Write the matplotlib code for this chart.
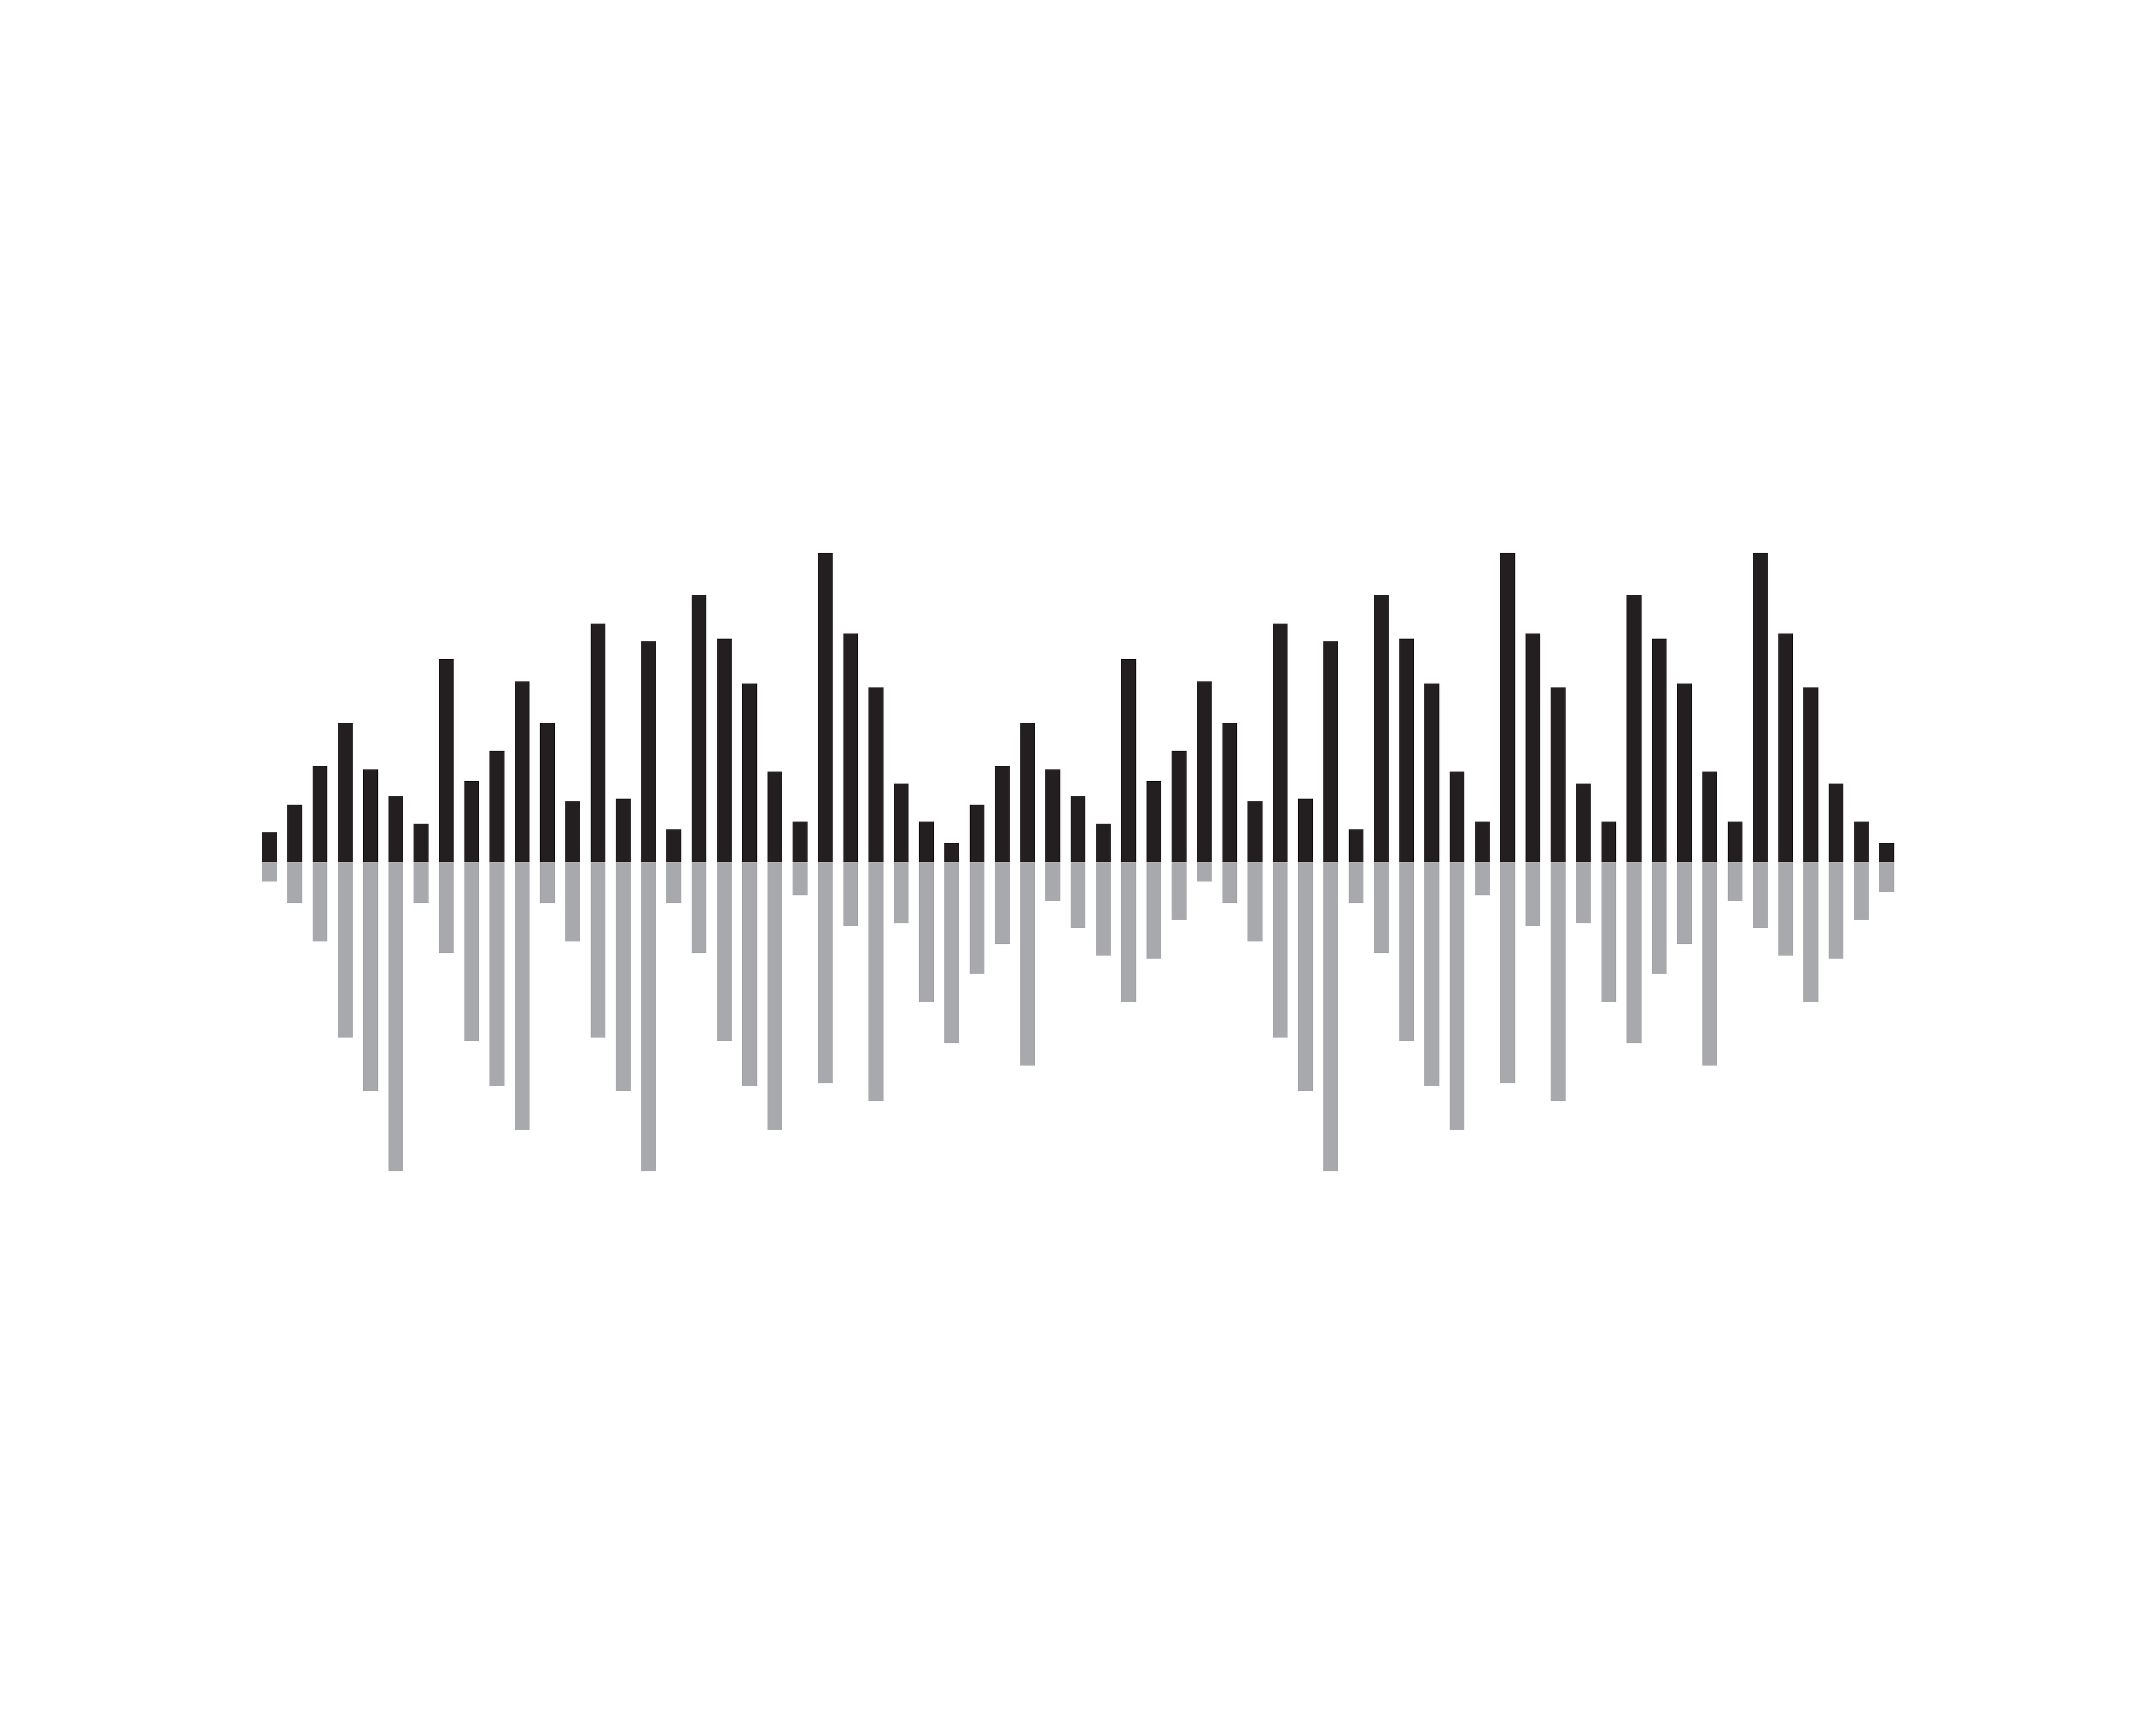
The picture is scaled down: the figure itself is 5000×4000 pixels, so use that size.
import numpy as np
import matplotlib.pyplot as plt

# amplitudes (same arbitrary unit for both halves)
arriba = [72, 139, 233, 338, 225, 160, 93, 492, 197, 270, 438, 338, 147, 578,
          154, 535, 79, 647, 541, 433, 219, 98, 749, 554, 423, 190, 98,
          46, 139, 233, 338, 225, 160, 93, 492, 197, 270, 438, 338, 147,
          578, 154, 535, 79, 647, 541, 433, 219, 98, 749, 554, 423, 190,
          98, 647, 541, 433, 219, 98, 749, 554, 423, 190, 98, 46]
abajo = [47, 99, 192, 425, 555, 749, 99, 220, 434, 542, 649, 99, 192, 425,
         555, 749, 99, 220, 434, 542, 649, 80, 536, 155, 579, 148, 339,
         439, 271, 198, 493, 94, 160, 227, 339, 234, 140, 47, 99, 192,
         425, 555, 749, 99, 220, 434, 542, 649, 80, 536, 155, 579, 148,
         339, 439, 271, 198, 493, 94, 160, 227, 339, 234, 140, 73]

x = np.arange(len(arriba))

fig = plt.figure(figsize=(50, 40), dpi=100)
ax = fig.add_axes([0, 0, 1, 1])

ax.bar(x, arriba, width=0.59, color='#231f20')
ax.bar(x, [-v for v in abajo], width=0.59, color='#a7a9ac')

# encuadre: primera barra en ~625 px, paso ~58.6 px, linea base en y ~2000 px
paso = 58.6
ax.set_xlim(-625 / paso, (5000 - 625) / paso)
ax.set_ylim(-2091, 2089)
ax.axis('off')

fig.savefig('out.png', dpi=100, facecolor='white')
